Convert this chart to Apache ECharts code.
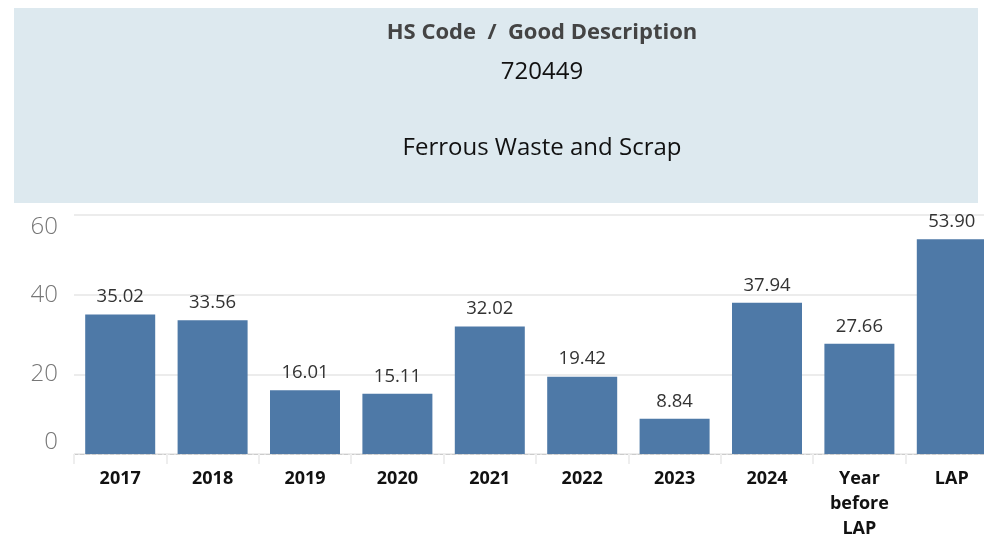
<!DOCTYPE html>
<html>
<head>
<meta charset="utf-8">
<script src="https://cdn.jsdelivr.net/npm/echarts@6/dist/echarts.min.js"></script>
<style>
  html, body { margin: 0; padding: 0; background: #fff; }
  #chart { width: 984px; height: 535px; }
</style>
</head>
<body>
<div id="chart"></div>
<script>
const categories = ['2017', '2018', '2019', '2020', '2021', '2022', '2023', '2024', 'Year\nbefore\nLAP', 'LAP'];
const values = [35.02, 33.56, 16.01, 15.11, 32.02, 19.42, 8.84, 37.94, 27.66, 53.90];
const headerLines = ['HS Code  /  Good Description', '720449', 'Ferrous Waste and Scrap'];

const font = '"Open Sans", "Noto Sans", sans-serif';
const headerX = 537; // header text is centred a bit right of the panel middle

const chart = echarts.init(document.getElementById('chart'));

chart.setOption({
    animation: false,
    graphic: [
        {
            type: 'rect',
            shape: { x: 14, y: 8, width: 964, height: 195 },
            style: { fill: '#dde9ef' },
            z: -1
        }
    ],
    title: [
        {
            text: headerLines[0],
            left: headerX,
            textAlign: 'center',
            top: 17,
            textStyle: { fontFamily: font, fontSize: 22, fontWeight: 'bold', color: '#444' }
        },
        {
            text: headerLines[1],
            left: headerX,
            textAlign: 'center',
            top: 55,
            textStyle: { fontFamily: font, fontSize: 24, fontWeight: 'normal', color: '#111' }
        },
        {
            text: headerLines[2],
            left: headerX,
            textAlign: 'center',
            top: 131,
            textStyle: { fontFamily: font, fontSize: 24, fontWeight: 'normal', color: '#111' }
        }
    ],
    grid: {
        left: 74,
        top: 215,
        width: 924,
        height: 239,
        containLabel: false,
        outerBoundsMode: 'none'
    },
    xAxis: {
        type: 'category',
        data: categories,
        axisLine: { show: true, lineStyle: { color: '#ccc', type: 'dashed', width: 1 } },
        axisTick: { show: true, length: 10, lineStyle: { color: '#eee', width: 2 } },
        axisLabel: {
            fontFamily: font,
            fontSize: 18,
            fontWeight: 'bold',
            color: '#111',
            margin: 12,
            lineHeight: 25,
            interval: 0
        }
    },
    yAxis: {
        type: 'value',
        min: 0,
        max: 60,
        interval: 20,
        axisLine: { show: false },
        axisTick: { show: false },
        splitLine: { lineStyle: { color: '#ececec', width: 2 } },
        axisLabel: {
            fontFamily: font,
            fontSize: 24,
            fontWeight: 300,
            color: '#777',
            margin: 16,
            verticalAlignMinLabel: 'bottom',
            verticalAlignMaxLabel: 'top'
        }
    },
    series: [
        {
            type: 'bar',
            data: values,
            barWidth: 70,
            itemStyle: { color: '#4e79a7' },
            label: {
                show: true,
                position: 'top',
                distance: 8,
                fontFamily: font,
                fontSize: 18.5,
                color: '#333',
                formatter: (p) => p.value.toFixed(2)
            }
        }
    ]
});
</script>
</body>
</html>
